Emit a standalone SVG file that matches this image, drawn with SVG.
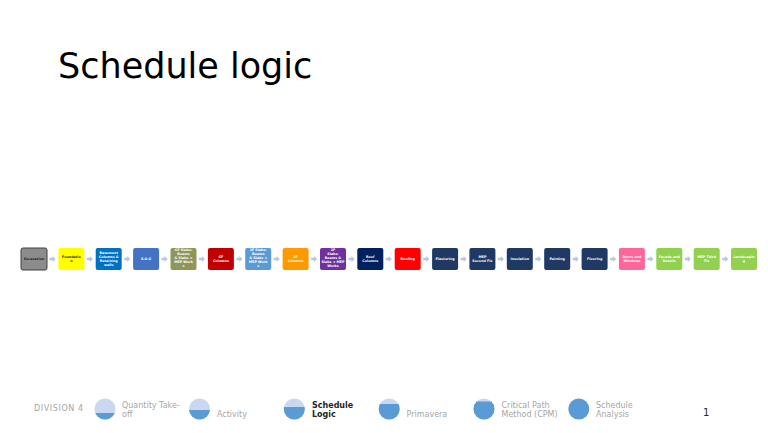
<svg xmlns="http://www.w3.org/2000/svg" width="768" height="433" viewBox="0 0 768 433">
<style>
.bx{stroke:none}
.bt{font-family:"DejaVu Sans",sans-serif;font-size:3.3px;font-weight:bold;text-anchor:middle}
.w{fill:#ffffff}
.d{fill:#1a1a1a}
.arr{fill:#b4c7e7}
.lbl{font-family:"DejaVu Sans",sans-serif;font-size:8px;fill:#a6a6a6}
.cur{font-family:"DejaVu Sans",sans-serif;font-size:8px;font-weight:bold;fill:#262626}
.bg{fill:#c9d8ee}
.fg{fill:#5b9bd5}
</style>
<defs>
<path id="ar" d="M0,-1.3 H3 V-2.9 L6,0 L3,2.9 V1.3 H0 Z"/>
<clipPath id="c1"><rect x="94" y="413" width="22" height="8"/></clipPath>
<clipPath id="c2"><rect x="188" y="410" width="22" height="11"/></clipPath>
<clipPath id="c3"><rect x="283" y="407" width="22" height="14"/></clipPath>
<clipPath id="c4"><rect x="378" y="404" width="22" height="17"/></clipPath>
<clipPath id="c5"><rect x="473" y="401.5" width="22" height="20"/></clipPath>
</defs>
<rect width="768" height="433" fill="#ffffff"/>
<text x="58" y="78" font-family="DejaVu Sans,sans-serif" font-size="35" fill="#000000">Schedule logic</text>

<g id="connectors">
<use href="#ar" class="arr" x="49.5" y="259"/>
<use href="#ar" class="arr" x="86.9" y="259"/>
<use href="#ar" class="arr" x="124.2" y="259"/>
<use href="#ar" class="arr" x="161.6" y="259"/>
<use href="#ar" class="arr" x="199" y="259"/>
<use href="#ar" class="arr" x="236.4" y="259"/>
<use href="#ar" class="arr" x="273.7" y="259"/>
<use href="#ar" class="arr" x="311.1" y="259"/>
<use href="#ar" class="arr" x="348.5" y="259"/>
<use href="#ar" class="arr" x="385.8" y="259"/>
<use href="#ar" class="arr" x="423.2" y="259"/>
<use href="#ar" class="arr" x="460.6" y="259"/>
<use href="#ar" class="arr" x="497.9" y="259"/>
<use href="#ar" class="arr" x="535.3" y="259"/>
<use href="#ar" class="arr" x="572.7" y="259"/>
<use href="#ar" class="arr" x="610.1" y="259"/>
<use href="#ar" class="arr" x="647.4" y="259"/>
<use href="#ar" class="arr" x="684.8" y="259"/>
<use href="#ar" class="arr" x="722.2" y="259"/>
</g>

<g id="n1"><rect x="21" y="248" width="26" height="22" rx="2" fill="#8c8c8c" stroke="#404040" stroke-width="1"/><text class="bt d" x="34" y="260.2">Excavation</text></g>
<g id="n2"><rect x="58.4" y="248" width="26" height="22" rx="2" fill="#ffff00"/><text class="bt d" x="71.4" y="258.2">Foundatio<tspan x="71.4" dy="4">n</tspan></text></g>
<g id="n3"><rect x="95.7" y="248" width="26" height="22" rx="2" fill="#0070c0"/><text class="bt w" x="108.7" y="254.3">Basement<tspan x="108.7" dy="4">Columns &amp;</tspan><tspan x="108.7" dy="4">Retaining</tspan><tspan x="108.7" dy="4">walls</tspan></text></g>
<g id="n4"><rect x="133.1" y="248" width="26" height="22" rx="2" fill="#4472c4"/><text class="bt w" x="146.1" y="260.2">S.O.G</text></g>
<g id="n5"><rect x="170.5" y="248" width="26" height="22" rx="2" fill="#8f9659"/><text class="bt w" x="183.5" y="251.2">GF Slabs:<tspan x="183.5" dy="4">Beams</tspan><tspan x="183.5" dy="4">&amp; Slabs +</tspan><tspan x="183.5" dy="4">MEP Work</tspan><tspan x="183.5" dy="4">s</tspan></text></g>
<g id="n6"><rect x="207.9" y="248" width="26" height="22" rx="2" fill="#c00000"/><text class="bt w" x="220.9" y="258.2">GF<tspan x="220.9" dy="4">Columns</tspan></text></g>
<g id="n7"><rect x="245.2" y="248" width="26" height="22" rx="2" fill="#5b9bd5"/><text class="bt w" x="258.2" y="251.2">1F Slabs:<tspan x="258.2" dy="4">Beams</tspan><tspan x="258.2" dy="4">&amp; Slabs +</tspan><tspan x="258.2" dy="4">MEP Work</tspan><tspan x="258.2" dy="4">s</tspan></text></g>
<g id="n8"><rect x="282.6" y="248" width="26" height="22" rx="2" fill="#ff9900"/><text class="bt w" x="295.6" y="258.2">1F<tspan x="295.6" dy="4">Columns</tspan></text></g>
<g id="n9"><rect x="320" y="248" width="26" height="22" rx="2" fill="#7030a0"/><text class="bt w" x="333" y="251.2">2F<tspan x="333" dy="4">Slabs:</tspan><tspan x="333" dy="4">Beams &amp;</tspan><tspan x="333" dy="4">Slabs + MEP</tspan><tspan x="333" dy="4">Works</tspan></text></g>
<g id="n10"><rect x="357.3" y="248" width="26" height="22" rx="2" fill="#002060"/><text class="bt w" x="370.3" y="258.2">Roof<tspan x="370.3" dy="4">Columns</tspan></text></g>
<g id="n11"><rect x="394.7" y="248" width="26" height="22" rx="2" fill="#ff0000"/><text class="bt w" x="407.7" y="260.2">Roofing</text></g>
<g id="n12"><rect x="432.1" y="248" width="26" height="22" rx="2" fill="#1f3864"/><text class="bt w" x="445.1" y="260.2">Plastering</text></g>
<g id="n13"><rect x="469.4" y="248" width="26" height="22" rx="2" fill="#1f3864"/><text class="bt w" x="482.4" y="258.2">MEP<tspan x="482.4" dy="4">Second Fix</tspan></text></g>
<g id="n14"><rect x="506.8" y="248" width="26" height="22" rx="2" fill="#1f3864"/><text class="bt w" x="519.8" y="260.2">Insulation</text></g>
<g id="n15"><rect x="544.2" y="248" width="26" height="22" rx="2" fill="#1f3864"/><text class="bt w" x="557.2" y="260.2">Painting</text></g>
<g id="n16"><rect x="581.6" y="248" width="26" height="22" rx="2" fill="#1f3864"/><text class="bt w" x="594.6" y="260.2">Flooring</text></g>
<g id="n17"><rect x="618.9" y="248" width="26" height="22" rx="2" fill="#ff6699"/><text class="bt w" x="631.9" y="258.2">Doors and<tspan x="631.9" dy="4">Windows</tspan></text></g>
<g id="n18"><rect x="656.3" y="248" width="26" height="22" rx="2" fill="#92d050"/><text class="bt w" x="669.3" y="258.2">Facade and<tspan x="669.3" dy="4">Details</tspan></text></g>
<g id="n19"><rect x="693.7" y="248" width="26" height="22" rx="2" fill="#92d050"/><text class="bt w" x="706.7" y="258.2">MEP Third<tspan x="706.7" dy="4">Fix</tspan></text></g>
<g id="n20"><rect x="731" y="248" width="26" height="22" rx="2" fill="#92d050"/><text class="bt w" x="744" y="258.2">Landscapin<tspan x="744" dy="4">g</tspan></text></g>

<g id="footer">
<text x="34" y="411" font-family="DejaVu Sans,sans-serif" font-size="8px" fill="#a6a6a6" letter-spacing="0.6">DIVISION 4</text>
<g id="p1"><circle class="bg" cx="105" cy="409" r="10.5"/><circle class="fg" cx="105" cy="409" r="10.5" clip-path="url(#c1)"/><text class="lbl" x="122" y="407.5">Quantity Take-<tspan x="122" dy="9">off</tspan></text></g>
<g id="p2"><circle class="bg" cx="199.5" cy="409" r="10.5"/><circle class="fg" cx="199.5" cy="409" r="10.5" clip-path="url(#c2)"/><text class="lbl" x="217" y="416.5">Activity</text></g>
<g id="p3"><circle class="bg" cx="294.3" cy="409" r="10.5"/><circle class="fg" cx="294.3" cy="409" r="10.5" clip-path="url(#c3)"/><text class="cur" x="312" y="407.5">Schedule<tspan x="312" dy="9">Logic</tspan></text></g>
<g id="p4"><circle class="bg" cx="389.2" cy="409" r="10.5"/><circle class="fg" cx="389.2" cy="409" r="10.5" clip-path="url(#c4)"/><text class="lbl" x="406.5" y="416.5">Primavera</text></g>
<g id="p5"><circle class="bg" cx="484" cy="409" r="10.5"/><circle class="fg" cx="484" cy="409" r="10.5" clip-path="url(#c5)"/><text class="lbl" x="501.5" y="407.5">Critical Path<tspan x="501.5" dy="9">Method (CPM)</tspan></text></g>
<g id="p6"><circle class="fg" cx="578.8" cy="409" r="10.5"/><text class="lbl" x="596" y="407.5">Schedule<tspan x="596" dy="9">Analysis</tspan></text></g>
<text x="703" y="415.5" font-family="DejaVu Sans,sans-serif" font-size="10px" fill="#262626">1</text>
</g>
</svg>
